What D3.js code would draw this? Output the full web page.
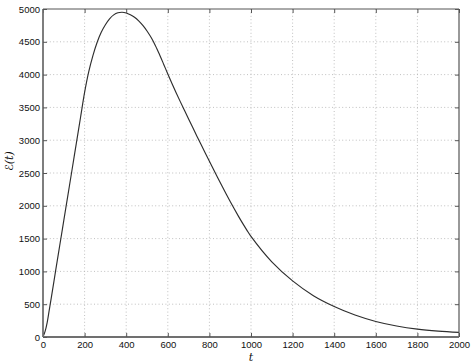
<!DOCTYPE html>
<html>
<head>
<meta charset="utf-8">
<script src="https://cdn.jsdelivr.net/npm/d3@7"></script>
<style>
  html, body { margin: 0; padding: 0; background: #fff; }
  svg { display: block; }
  text { font-family: "Liberation Sans", Arial, sans-serif; }
</style>
</head>
<body>
<svg id="chart" width="474" height="363"></svg>
<script>
// Data
const tValues = [0, 10, 20, 30, 40, 60, 80, 100, 120, 140, 160, 180, 200, 220, 240, 260, 280, 300, 320, 340, 360, 380,
  400, 420, 440, 460, 480, 500, 520, 540, 560, 580, 600, 620, 640, 660, 680, 700, 720, 740, 760, 780, 800,
  820, 840, 860, 880, 900, 920, 940, 960, 980, 1000, 1100, 1200, 1300, 1400, 1500, 1600, 1700, 1800, 1900, 2000];
const eValues = [0, 85, 220, 410, 600, 996, 1387, 1777, 2167, 2557, 2948, 3338, 3728, 4045, 4290, 4490, 4645, 4760, 4850, 4910, 4942, 4950,
  4940, 4913, 4875, 4820, 4750, 4665, 4565, 4445, 4307, 4159, 4009, 3864, 3724, 3588, 3455, 3323, 3192, 3062, 2933, 2805, 2678,
  2552, 2427, 2304, 2183, 2065, 1950, 1839, 1732, 1630, 1533, 1145, 855, 630, 465, 335, 237, 168, 120, 90, 70];
const xTicks = [0, 200, 400, 600, 800, 1000, 1200, 1400, 1600, 1800, 2000];
const yTicks = [0, 500, 1000, 1500, 2000, 2500, 3000, 3500, 4000, 4500, 5000];
const xLabel = "t";
const yLabelScript = "ℰ";
const yLabelArg = "(t)";

(function () {
const svg = d3.select("#chart");
const mL = 43, mR = 459, mT = 9, mB = 337;

const x = d3.scaleLinear().domain([0, 2000]).range([mL, mR]);
const y = d3.scaleLinear().domain([0, 5000]).range([mB, mT]);

// grid
const grid = svg.append("g");
grid.selectAll("line.gx").data(xTicks.slice(1, -1)).join("line")
  .attr("x1", d => x(d)).attr("x2", d => x(d))
  .attr("y1", mT).attr("y2", mB)
  .attr("stroke", "#b0b0b0").attr("stroke-width", 0.8)
  .attr("stroke-dasharray", "1,2.4");
grid.selectAll("line.gy").data(yTicks.slice(1, -1)).join("line")
  .attr("y1", d => y(d)).attr("y2", d => y(d))
  .attr("x1", mL).attr("x2", mR)
  .attr("stroke", "#b0b0b0").attr("stroke-width", 0.8)
  .attr("stroke-dasharray", "1,2.4");

// curve
const data = tValues.map((t, i) => ({ t, e: eValues[i] }));
const line = d3.line().x(d => x(d.t)).y(d => y(d.e)).curve(d3.curveCatmullRom.alpha(0.5));
svg.append("path").datum(data)
  .attr("d", line)
  .attr("fill", "none")
  .attr("stroke", "#2e2e2e")
  .attr("stroke-width", 1.15);

// axes (ticks inward on all sides)
const tick = 4;
const fs = "9.5px";
const axB = d3.axisBottom(x).tickValues(xTicks).tickSize(-tick).tickPadding(4).tickFormat(d3.format("d"));
const axT = d3.axisTop(x).tickValues(xTicks).tickSize(-tick).tickFormat("");
const axL = d3.axisLeft(y).tickValues(yTicks).tickSize(-tick).tickPadding(3).tickFormat(d3.format("d"));
const axR = d3.axisRight(y).tickValues(yTicks).tickSize(-tick).tickFormat("");

function style(g, w, c) {
  g.select(".domain").attr("stroke", c).attr("stroke-width", w);
  g.selectAll(".tick line").attr("stroke", "#555").attr("stroke-width", 1);
  g.selectAll(".tick text").attr("fill", "#111").style("font-size", fs)
    .style("font-family", "'Liberation Sans', Arial, sans-serif");
}
svg.append("g").attr("transform", `translate(0,${mT})`).call(axT).call(g => style(g, 1, "#555"))
  .select(".domain").attr("d", `M${mL},0H${mR}`);
svg.append("g").attr("transform", `translate(${mR},0)`).call(axR).call(g => style(g, 1.2, "#555"))
  .select(".domain").attr("d", `M0,${mT}V${mB}`);
svg.append("g").attr("transform", `translate(0,${mB})`).call(axB).call(g => style(g, 1.8, "#707070"))
  .select(".domain").attr("d", `M${mL},0H${mR}`);
svg.append("g").attr("transform", `translate(${mL},0)`).call(axL).call(g => style(g, 1.8, "#707070"))
  .select(".domain").attr("d", `M0,${mT}V${mB}`);

// labels
svg.append("text")
  .attr("x", 251).attr("y", 360.5)
  .attr("text-anchor", "middle")
  .style("font-family", "'DejaVu Serif', 'Liberation Serif', serif")
  .style("font-style", "italic")
  .style("font-size", "11px")
  .attr("fill", "#111")
  .text(xLabel);

const yl = svg.append("text")
  .attr("transform", "translate(13,161) rotate(-90)")
  .attr("text-anchor", "middle")
  .style("font-family", "'DejaVu Serif', 'Liberation Serif', serif")
  .style("font-size", "11px")
  .attr("fill", "#111");
yl.append("tspan").style("font-family", "'DejaVu Sans', 'Noto Sans', serif").text(yLabelScript);
yl.append("tspan").style("font-style", "italic").text(yLabelArg);
})();
</script>
</body>
</html>
